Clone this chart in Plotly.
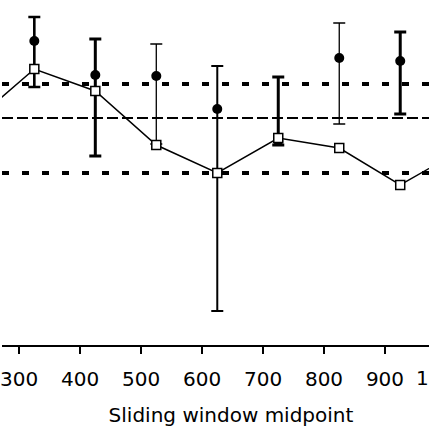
import plotly.graph_objects as go

# sliding window midpoints
window_mid = [225, 325, 425, 525, 625, 725, 825, 925, 1025]
square_val = [2.23, 2.76, 2.54, 2.00, 1.72, 2.07, 1.97, 1.60, 1.95]

point_mid = [325, 425, 525, 625, 725, 825, 925]
point_val = [3.04, 2.70, 2.69, 2.36, 2.04, 2.87, 2.84]
point_hi = [3.28, 3.06, 3.01, 2.79, 2.68, 3.22, 3.13]
point_lo = [2.58, 1.89, 2.01, 0.34, 2.00, 2.21, 2.31]

upper_ref = 2.61
mean_ref = 2.27
lower_ref = 1.72

tick_vals = [300, 400, 500, 600, 700, 800, 900, 1000]
x_title = "Sliding window midpoint"

# error bar line weights vary per window
bar_widths = [2.6, 3, 1.3, 2, 3, 1.3, 3]

# figure is wider than the window on purpose: the right side is cropped like the original
x_range = [272, 1023]
y_range = [0, 3.45]
font = "DejaVu Sans, Liberation Sans, sans-serif"

fig = go.Figure()

for ref, dash, w in [(upper_ref, "7px,13px", 4), (lower_ref, "7px,13px", 4), (mean_ref, "11px,4px", 2)]:
    fig.add_trace(go.Scatter(x=x_range, y=[ref, ref], mode="lines",
                             line=dict(color="black", width=w, dash=dash),
                             hoverinfo="skip", showlegend=False))

for i, xm in enumerate(point_mid):
    fig.add_trace(go.Scatter(
        x=[xm], y=[point_val[i]], mode="markers",
        marker=dict(symbol="circle", size=10, color="black"),
        error_y=dict(type="data", symmetric=False,
                     array=[point_hi[i] - point_val[i]],
                     arrayminus=[point_val[i] - point_lo[i]],
                     color="black", thickness=bar_widths[i], width=6),
        showlegend=False))

fig.add_trace(go.Scatter(
    x=window_mid, y=square_val, mode="lines+markers",
    line=dict(color="black", width=1.5),
    marker=dict(symbol="square", size=9, color="white",
                line=dict(color="black", width=1.5)),
    showlegend=False))

# last label sits a bit left of its tick in the original, only its first digit shows
fig.add_annotation(x=tick_vals[-1], xref="x", y=0, yref="paper", yanchor="middle",
                   yshift=-33, xshift=-4, text=str(tick_vals[-1]), showarrow=False,
                   font=dict(family=font, size=20, color="black"))

fig.update_xaxes(range=x_range, tickvals=tick_vals[:-1], ticks="outside", ticklen=7,
                 tickwidth=2, tickcolor="black", showline=True, linecolor="black",
                 linewidth=2, showgrid=False, zeroline=False, ticklabelstandoff=8,
                 ticklabeloverflow="allow",
                 tickfont=dict(family=font, size=20, color="black"),
                 title=dict(text=x_title, standoff=18,
                            font=dict(family=font, size=20, color="black")))
fig.update_yaxes(range=y_range, visible=False, showgrid=False, zeroline=False)

fig.update_layout(width=460, height=429, margin=dict(l=0, r=0, t=0, b=84),
                  plot_bgcolor="white", paper_bgcolor="white")

# drop the default body margin so the figure starts at the window corner
fig.write_html("out.html", config={"displayModeBar": False},
               post_script="document.body.style.margin = '0';")
